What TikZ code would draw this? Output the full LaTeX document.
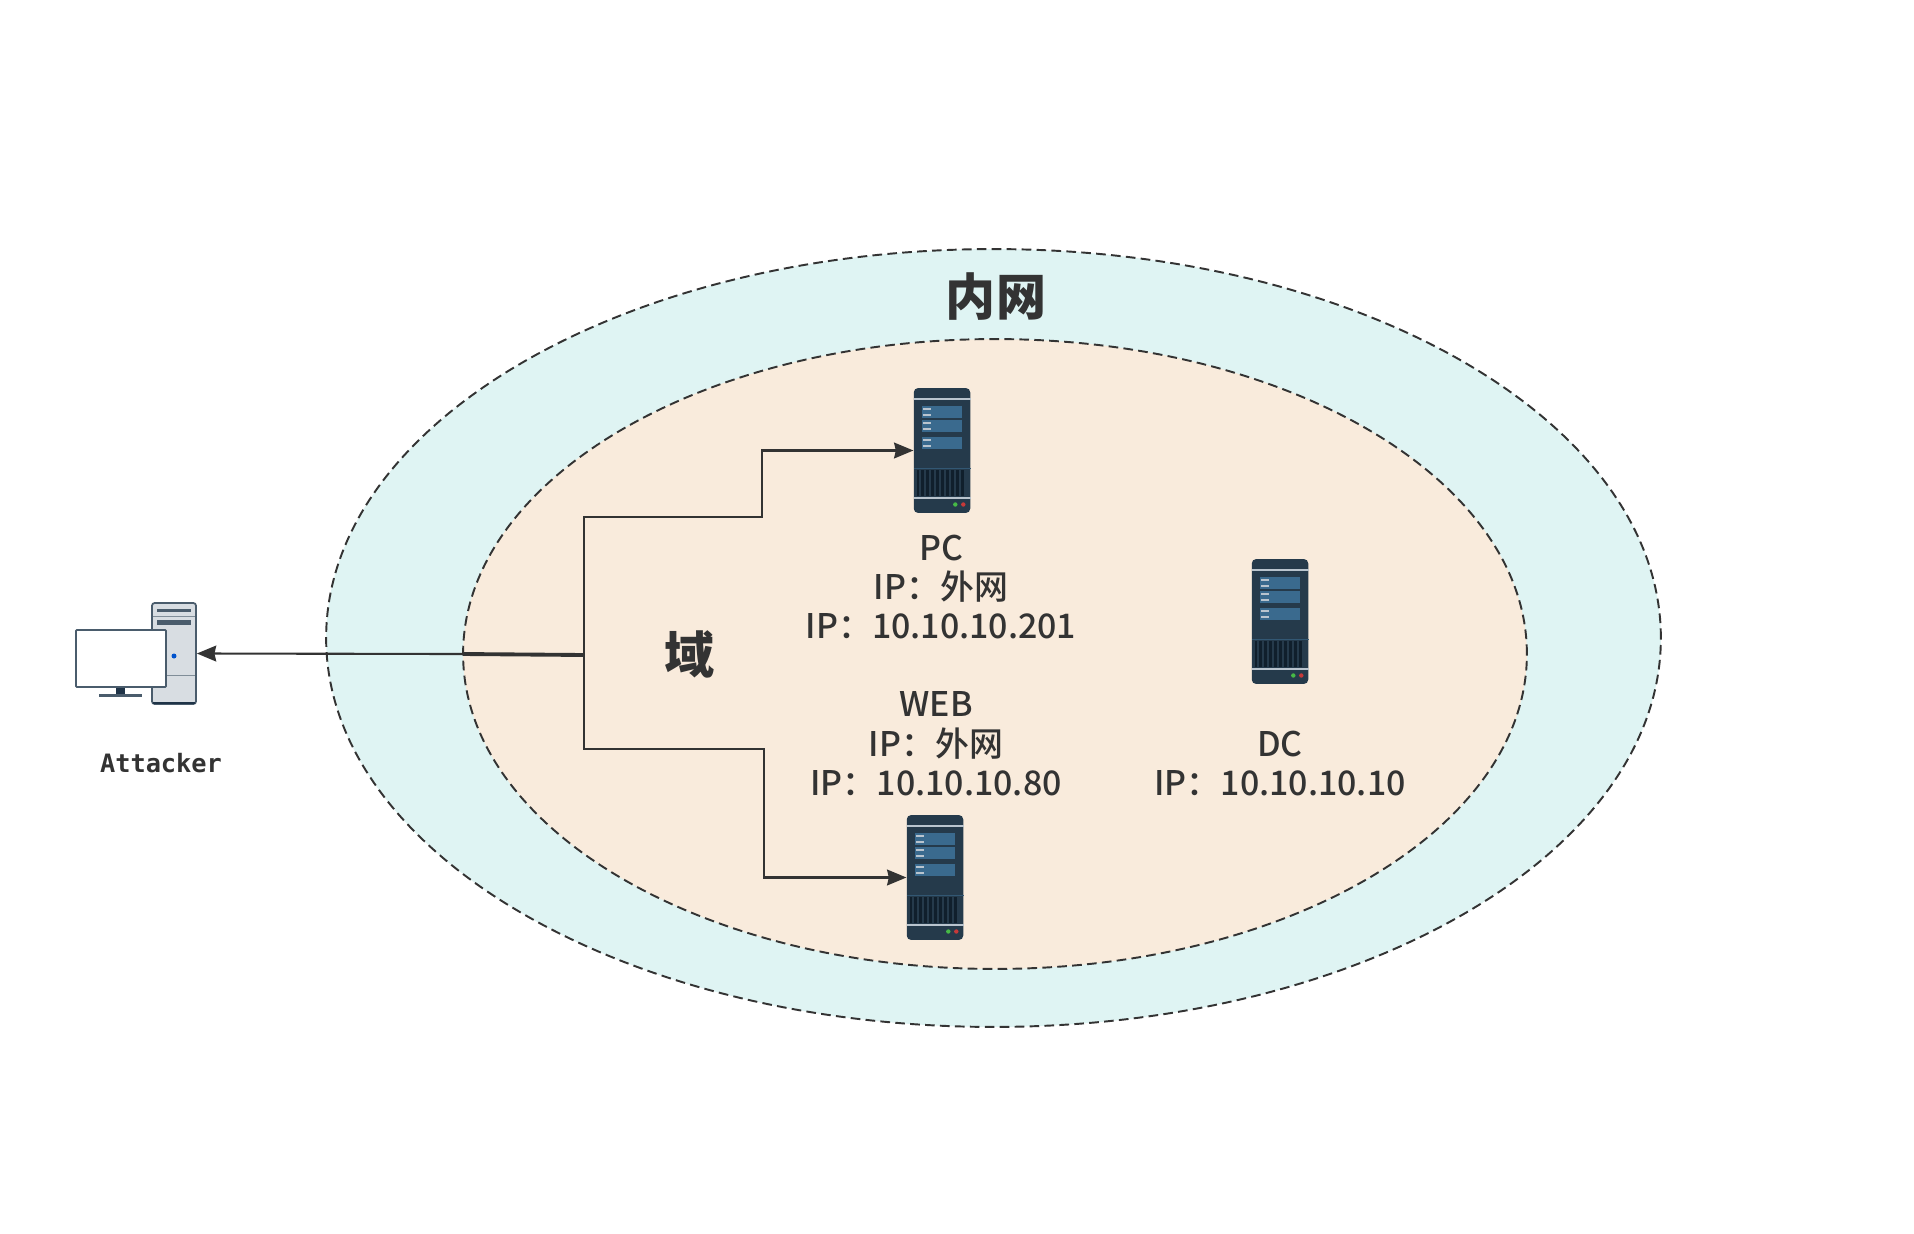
\documentclass[tikz,border=0pt]{standalone}
\usepackage{fontspec}
\setmainfont{Noto Sans CJK SC}
\newfontfamily\lblfont{Noto Sans CJK SC Medium}
\newfontfamily\monob{DejaVu Sans Mono}
\usetikzlibrary{arrows.meta,shapes.geometric}
\definecolor{outerfill}{HTML}{DFF4F3}
\definecolor{innerfill}{HTML}{F9EBDC}
\definecolor{ink}{HTML}{333333}
\definecolor{srvbody}{HTML}{253A4B}
\definecolor{srvband}{HTML}{3A6A8E}
\definecolor{srvline}{HTML}{B9C4CE}
\definecolor{srvgrill}{HTML}{101F2C}
\definecolor{twr}{HTML}{D8DDE2}
\definecolor{pcedge}{HTML}{4A5C6C}
\definecolor{pcdark}{HTML}{1F3347}
\tikzset{
  x=0.02cm,y=-0.02cm,
  zone/.style={draw=ink,line width=1.1pt,dash pattern=on 5.5pt off 3pt},
  link/.style={draw=ink,line width=1.2pt},
  linkhead/.style={link,-{Stealth[length=11pt,width=9pt,inset=1pt]}},
  serverbox/.style={minimum width=1.13cm,minimum height=2.5cm,inner sep=0pt,fill=srvbody,rounded corners=2.5pt},
  lbl/.style={text=ink,font=\lblfont\fontsize{19.3pt}{22.4pt}\selectfont,align=center,inner sep=0pt},
  big/.style={text=ink,font=\bfseries\fontsize{28.5pt}{32pt}\selectfont,inner sep=0pt},
  srv/.pic={
    \fill[srvline] (-28.5,-52.5) rectangle (28.5,-50.5);
    \fill[srvline] (-28.5,46) rectangle (28.5,48);
    \foreach \yy in {-41.5,-35.5,-27.5,-21.5,-10.5,-4.5} {
      \fill[srvband] (-20,\yy-2.6) rectangle (20,\yy+2.6);
      \fill[srvline] (-19,\yy-1) rectangle (-11,\yy+1);
    }
    \fill[srvgrill] (-25,19.5) rectangle (24,45.5);
    \fill[srvband!60!srvbody] (-28.5,17) rectangle (28.5,18.5);
    \foreach \xx in {-22,-17,...,23} { \fill[srvbody] (\xx-0.9,19.5) rectangle (\xx+0.9,45.5); }
    \fill[green!45!gray] (13.3,54) circle (2.2);
    \fill[red!55!gray] (21.3,54) circle (2.2);
  }
}
\begin{document}
\begin{tikzpicture}
\useasboundingbox (0,0) rectangle (1914,1234);
\fill[white] (0,0) rectangle (1914,1234);
\node[zone,fill=outerfill,ellipse,minimum width=26.7cm,minimum height=15.56cm,inner sep=0pt] (outer) at (993.5,638) {};
\node[zone,fill=innerfill,ellipse,minimum width=21.28cm,minimum height=12.6cm,inner sep=0pt] (inner) at (995,654) {};
\node[big] (neiwang) at (996,297) {内网};
\node[big] (yu) at (690,654) {域};
% servers
\node[serverbox] (pc) at (942,450.5) {};
\pic at (pc.center) {srv};
\node[serverbox] (dc) at (1280,621.5) {};
\pic at (dc.center) {srv};
\node[serverbox] (web) at (935,877.5) {};
\pic at (web.center) {srv};
% attacker
\node[minimum width=0.88cm,minimum height=2.02cm,inner sep=0pt,fill=twr,draw=pcedge,line width=1pt,rounded corners=1.5pt] (tower) at (174,653.5) {};
\draw[pcdark,line width=1.5pt] (153,703) -- (195,703);
\fill[pcedge] (157,609) rectangle (191,612);
\draw[pcedge!70,line width=.5pt] (153,616) -- (195,616);
\fill[pcedge] (157,620) rectangle (191,625);
\draw[pcedge!70,line width=.5pt] (153,675) -- (195,675);
\fill[blue!60!cyan!80!black] (174,656) circle (2.5);
\fill[pcdark] (116,686) rectangle (125,695);
\fill[pcedge] (99,694) rectangle (142,697);
\node[minimum width=1.8cm,minimum height=1.14cm,inner sep=0pt,fill=white,draw=pcedge,line width=1pt,rounded corners=.5pt] (monitor) at (121,658.5) {};
\node[text=ink,font=\monob\bfseries\fontsize{14.4pt}{16pt}\selectfont,inner sep=0pt] (atklabel) at (161,763) {Attacker};
% labels
\node[lbl] (pclabel) at (941,587) {PC\\IP：外网\\IP：10.10.10.201};
\node[lbl] (weblabel) at (936,744) {WEB\\IP：外网\\IP：10.10.10.80};
\node[lbl] (dclabel) at (1280,763.5) {DC\\IP：10.10.10.10};
% connectors
\coordinate (hub) at (584,655);
\coordinate (hubin) at (463,654);
\draw[link,line width=2.2pt] (hubin) -- (hub);
\draw[linkhead] (hubin) -- (tower.east);
\draw[linkhead] (hub) |- (762,517) |- (pc.west);
\draw[linkhead] (hub) |- (764,749) |- (web.west);
\end{tikzpicture}
\end{document}
